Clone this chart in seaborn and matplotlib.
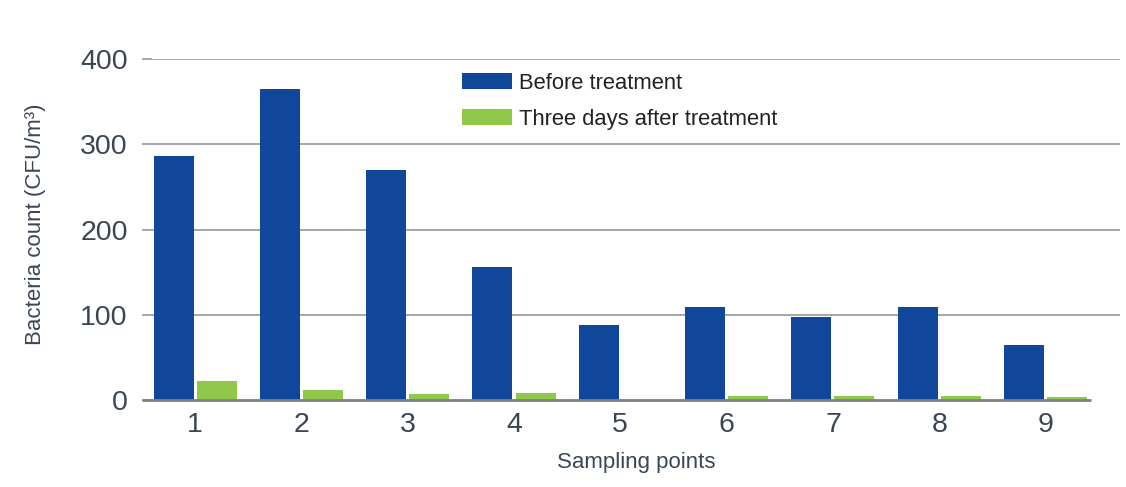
import matplotlib
matplotlib.use("Agg")
import matplotlib.pyplot as plt
import seaborn as sns
import pandas as pd

# data
points = ["1", "2", "3", "4", "5", "6", "7", "8", "9"]
before = [286, 365, 270, 156, 88, 109, 97, 109, 65]
after = [22, 12, 7, 8.5, 0, 4.5, 4.5, 4.5, 3.5]
series_names = ["Before treatment", "Three days after treatment"]
y_ticks = [0, 100, 200, 300, 400]

df = pd.DataFrame({
    "point": points * 2,
    "count": before + after,
    "series": [series_names[0]] * len(points) + [series_names[1]] * len(points),
})

sns.set_theme(style="white")
plt.rcParams["font.family"] = ["Liberation Sans", "DejaVu Sans"]
text_col = "#3b4654"
grid_col = "#8a8f96"

W, H = 1126, 487
fig = plt.figure(figsize=(W / 100, H / 100), dpi=100)
ax = fig.add_axes([152 / W, (H - 400) / H, (1120 - 152) / W, (400 - 59) / H])

sns.barplot(data=df, x="point", y="count", hue="series",
            palette=["#10479b", "#8fc84a"], width=0.81, gap=0.07,
            saturation=1, linewidth=0, ax=ax, legend=True)

ax.set_xlim(-0.405, 8.70)
ax.set_ylim(0, 400)
ax.set_yticks(y_ticks)
for v in y_ticks[1:]:
    ax.axhline(v, color=grid_col, lw=1.1, zorder=0)
ax.hlines(0, -0.5, 8.43, color="#7d8288", lw=2, zorder=1, clip_on=False)

for s in ax.spines.values():
    s.set_visible(False)
ax.tick_params(axis="y", length=7.5, width=1.1, color=grid_col, pad=10,
               labelsize=20.5, labelcolor=text_col, left=True)
ax.tick_params(axis="x", length=0, pad=9, labelsize=20.5, labelcolor=text_col)

ax.set_xlabel("Sampling points", fontsize=16, color=text_col, labelpad=10)
ax.set_ylabel("Bacteria count (CFU/m³)", fontsize=16, color=text_col)
ax.yaxis.set_label_coords(-0.109, 0.515)

handles, labels = ax.get_legend_handles_labels()
ax.legend(handles, labels, loc="upper left", bbox_to_anchor=(462 / W, 1 - 73 / H),
          bbox_transform=fig.transFigure, frameon=False, fontsize=15.8,
          borderpad=0, borderaxespad=0,
          handlelength=2.3, handleheight=0.75, handletextpad=0.32, labelspacing=0.68,
          labelcolor="#222222")

fig.savefig("out.png", dpi=100)
